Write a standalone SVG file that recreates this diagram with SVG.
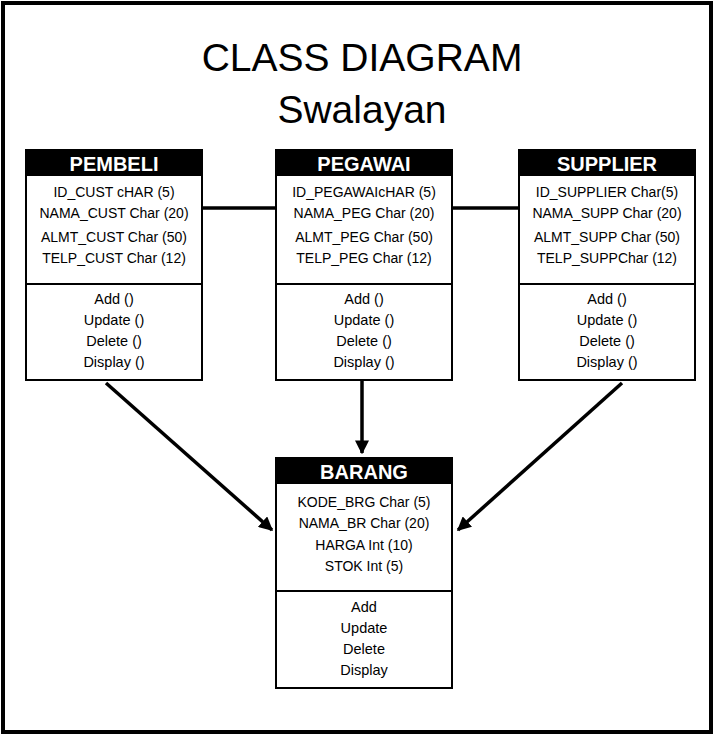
<svg xmlns="http://www.w3.org/2000/svg" width="714" height="735" viewBox="0 0 714 735">
<style>
text{font-family:"Liberation Sans",Arial,sans-serif;text-anchor:middle;fill:#000}
.t{font-size:39px}
.h{font-size:20px;font-weight:bold;fill:#fff}
.r{font-size:14px}
.m{font-size:14.5px}
.box{fill:#fff;stroke:#000;stroke-width:2}
.hd{fill:#000}
.c{stroke:#000;stroke-width:3.5;fill:none}
</style>
<defs><marker id="a" viewBox="0 0 10 10" refX="9" refY="5" markerWidth="4" markerHeight="4" orient="auto"><path d="M0,0L10,5L0,10z" fill="#000"/></marker></defs>
<rect x="0" y="0" width="714" height="735" fill="#fff"/>
<rect x="3" y="3" width="708" height="729" fill="none" stroke="#000" stroke-width="4"/>
<text class="t" x="362" y="71">CLASS DIAGRAM</text>
<text class="t" x="362" y="123">Swalayan</text>
<g id="connectors">
<line class="c" x1="202" y1="208" x2="276" y2="208"/>
<line class="c" x1="452" y1="208" x2="519" y2="208"/>
<line class="c" x1="106" y1="383" x2="272" y2="530" marker-end="url(#a)"/>
<line class="c" x1="362" y1="381" x2="362" y2="453" marker-end="url(#a)"/>
<line class="c" x1="622" y1="383" x2="458" y2="530" marker-end="url(#a)"/>
</g>
<g id="pembeli">
<rect class="box" x="26" y="150" width="176" height="230"/><rect class="hd" x="26" y="150" width="176" height="26"/>
<line x1="26" y1="284" x2="202" y2="284" stroke="#000" stroke-width="2"/>
<text class="h" x="114" y="171">PEMBELI</text>
<text class="r" x="114" y="197">ID_CUST cHAR (5)</text><text class="r" x="114" y="218">NAMA_CUST Char (20)</text><text class="r" x="114" y="242">ALMT_CUST Char (50)</text><text class="r" x="114" y="263">TELP_CUST Char (12)</text>
<text class="m" x="114" y="304">Add ()</text><text class="m" x="114" y="325">Update ()</text><text class="m" x="114" y="346">Delete ()</text><text class="m" x="114" y="367">Display ()</text>
</g>
<g id="pegawai">
<rect class="box" x="276" y="150" width="176" height="230"/><rect class="hd" x="276" y="150" width="176" height="26"/>
<line x1="276" y1="284" x2="452" y2="284" stroke="#000" stroke-width="2"/>
<text class="h" x="364" y="171">PEGAWAI</text>
<text class="r" x="364" y="197">ID_PEGAWAIcHAR (5)</text><text class="r" x="364" y="218">NAMA_PEG Char (20)</text><text class="r" x="364" y="242">ALMT_PEG Char (50)</text><text class="r" x="364" y="263">TELP_PEG Char (12)</text>
<text class="m" x="364" y="304">Add ()</text><text class="m" x="364" y="325">Update ()</text><text class="m" x="364" y="346">Delete ()</text><text class="m" x="364" y="367">Display ()</text>
</g>
<g id="supplier">
<rect class="box" x="519" y="150" width="176" height="230"/><rect class="hd" x="519" y="150" width="176" height="26"/>
<line x1="519" y1="284" x2="695" y2="284" stroke="#000" stroke-width="2"/>
<text class="h" x="607" y="171">SUPPLIER</text>
<text class="r" x="607" y="197">ID_SUPPLIER Char(5)</text><text class="r" x="607" y="218">NAMA_SUPP Char (20)</text><text class="r" x="607" y="242">ALMT_SUPP Char (50)</text><text class="r" x="607" y="263">TELP_SUPPChar (12)</text>
<text class="m" x="607" y="304">Add ()</text><text class="m" x="607" y="325">Update ()</text><text class="m" x="607" y="346">Delete ()</text><text class="m" x="607" y="367">Display ()</text>
</g>
<g id="barang">
<rect class="box" x="276" y="458" width="176" height="230"/><rect class="hd" x="276" y="458" width="176" height="26"/>
<line x1="276" y1="591" x2="452" y2="591" stroke="#000" stroke-width="2"/>
<text class="h" x="364" y="479">BARANG</text>
<text class="r" x="364" y="507">KODE_BRG Char (5)</text><text class="r" x="364" y="528">NAMA_BR Char (20)</text><text class="r" x="364" y="550">HARGA Int (10)</text><text class="r" x="364" y="571">STOK Int (5)</text>
<text class="m" x="364" y="612">Add</text><text class="m" x="364" y="633">Update</text><text class="m" x="364" y="654">Delete</text><text class="m" x="364" y="675">Display</text>
</g>
</svg>
